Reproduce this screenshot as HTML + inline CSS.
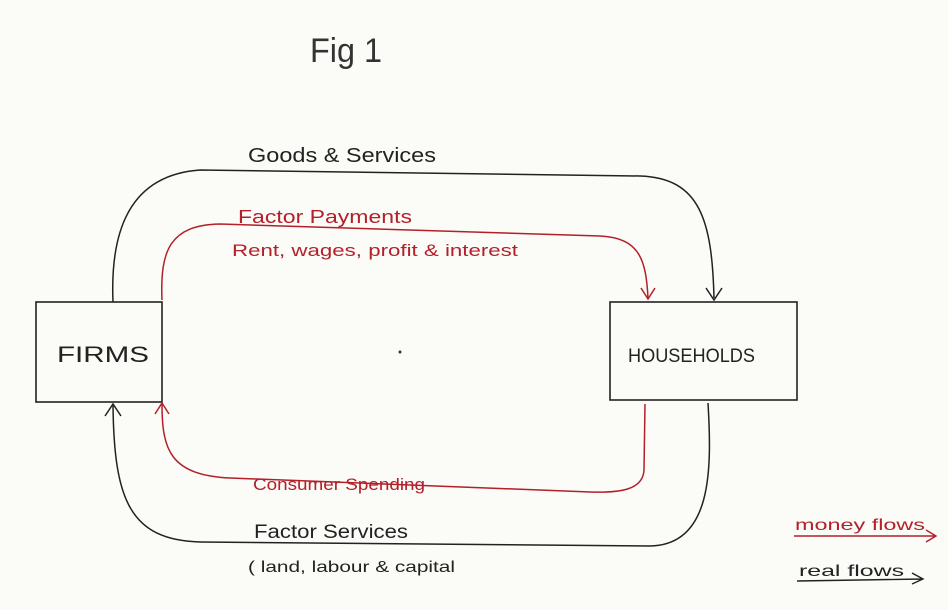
<!DOCTYPE html>
<html><head><style>
html,body{margin:0;padding:0;background:#fbfbf8;}
svg{display:block}
text{font-family:"Liberation Sans",sans-serif;}
</style></head><body>
<svg width="948" height="610" viewBox="0 0 948 610">
<rect width="948" height="610" fill="#fbfbf8"/>
<text x="310" y="62" font-size="34" fill="#333" textLength="72" lengthAdjust="spacingAndGlyphs">Fig 1</text>
<!-- boxes -->
<rect x="36" y="302" width="126" height="100" fill="none" stroke="#222" stroke-width="1.6"/>
<rect x="610" y="302" width="187" height="98" fill="none" stroke="#222" stroke-width="1.6"/>
<text x="57" y="362" font-size="22" fill="#222" textLength="92" lengthAdjust="spacingAndGlyphs">FIRMS</text>
<text x="628" y="362" font-size="19" fill="#222" textLength="127" lengthAdjust="spacingAndGlyphs">HOUSEHOLDS</text>
<circle cx="400" cy="352" r="1.5" fill="#333"/>
<!-- black top -->
<path d="M113 302 C110 230 130 175 200 170 L640 176 C700 178 712 220 714 298" fill="none" stroke="#222" stroke-width="1.5"/>
<path d="M706 288 L714 300 L722 288" fill="none" stroke="#222" stroke-width="1.5"/>
<!-- red top -->
<path d="M162 300 C160 250 170 225 220 224 L600 236 C640 238 646 260 648 298" fill="none" stroke="#b3202a" stroke-width="1.5"/>
<path d="M641 288 L648 299 L655 288" fill="none" stroke="#b3202a" stroke-width="1.5"/>
<!-- red bottom -->
<path d="M645 404 L644 470 C643 490 620 493 590 492 L230 478 C170 475 162 450 162 404" fill="none" stroke="#b3202a" stroke-width="1.5"/>
<path d="M155 414 L162 403 L169 414" fill="none" stroke="#b3202a" stroke-width="1.5"/>
<!-- black bottom -->
<path d="M708 403 C712 470 712 545 650 546 L200 542 C130 540 114 500 113 405" fill="none" stroke="#222" stroke-width="1.5"/>
<path d="M105 416 L113 404 L121 416" fill="none" stroke="#222" stroke-width="1.5"/>
<!-- labels -->
<text x="248" y="162" font-size="20" fill="#222" textLength="188" lengthAdjust="spacingAndGlyphs">Goods &amp; Services</text>
<text x="238" y="223" font-size="18" fill="#b3202a" textLength="174" lengthAdjust="spacingAndGlyphs">Factor Payments</text>
<text x="232" y="256" font-size="17" fill="#b3202a" textLength="286" lengthAdjust="spacingAndGlyphs">Rent, wages, profit &amp; interest</text>
<text x="253" y="490" font-size="17" fill="#b3202a" textLength="172" lengthAdjust="spacingAndGlyphs">Consumer Spending</text>
<text x="254" y="538" font-size="19" fill="#222" textLength="154" lengthAdjust="spacingAndGlyphs">Factor Services</text>
<text x="248" y="572" font-size="16" fill="#222" textLength="207" lengthAdjust="spacingAndGlyphs">( land, labour &amp; capital</text>
<!-- legend -->
<text x="795" y="530" font-size="16" fill="#b3202a" textLength="130" lengthAdjust="spacingAndGlyphs">money flows</text>
<path d="M794 536 L935 536 M926 530 L936 536 L926 542" fill="none" stroke="#b3202a" stroke-width="1.4"/>
<text x="799" y="576" font-size="16" fill="#222" textLength="105" lengthAdjust="spacingAndGlyphs">real flows</text>
<path d="M797 581 L922 579 M912 573 L923 579 L912 584" fill="none" stroke="#222" stroke-width="1.4"/>
</svg>
</body></html>
